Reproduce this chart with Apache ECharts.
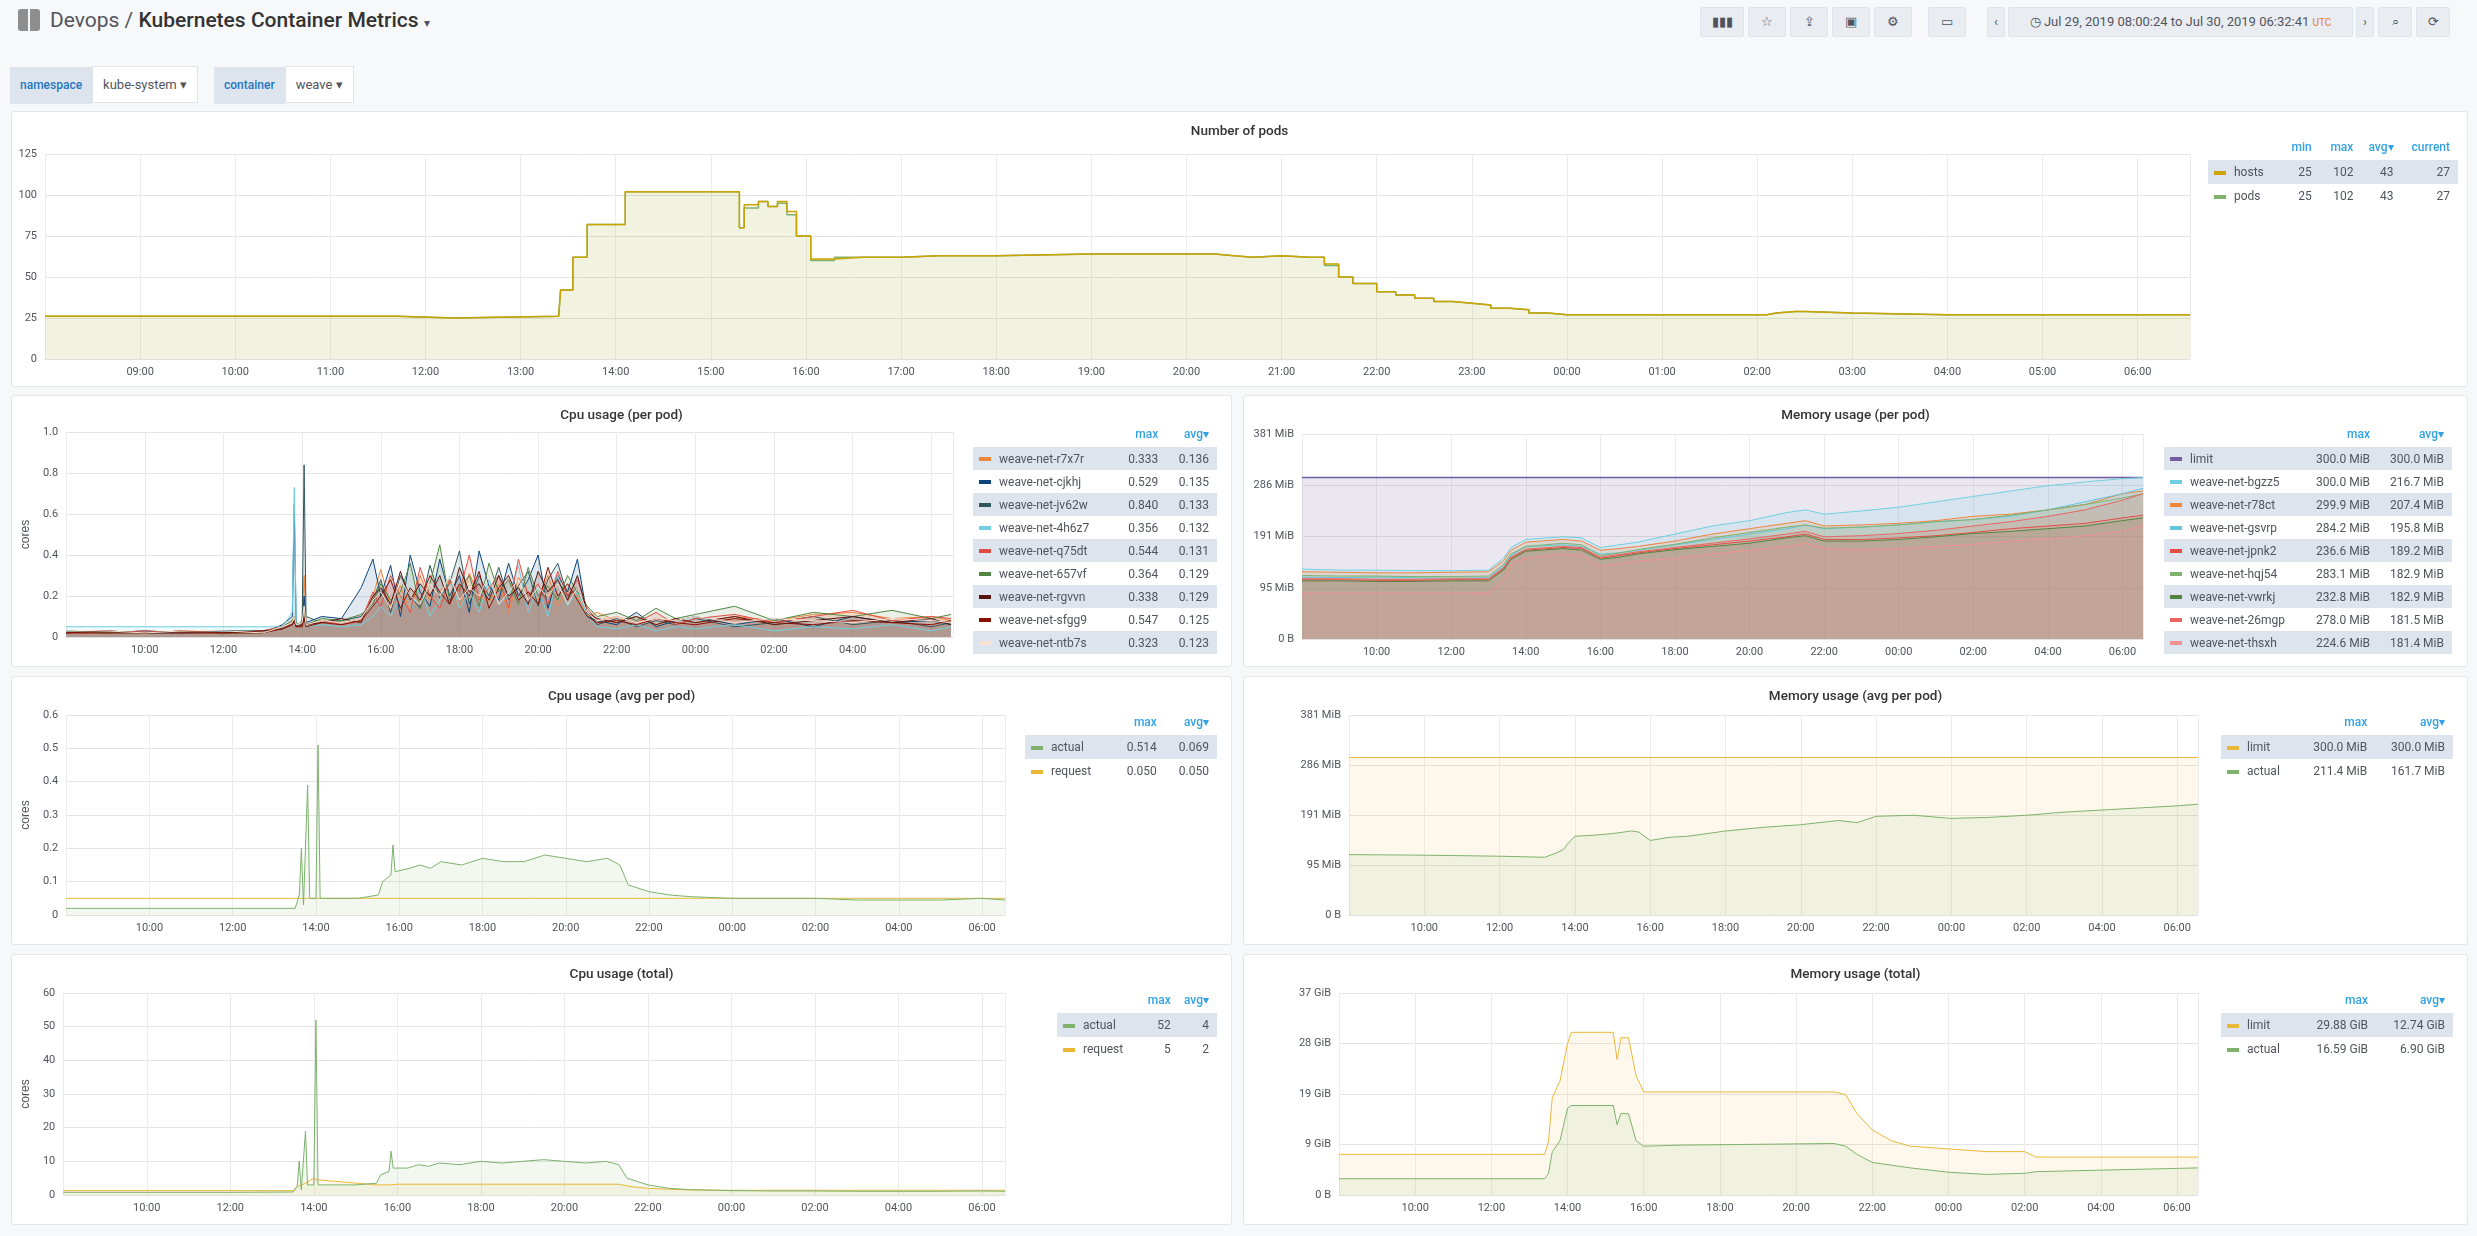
<!DOCTYPE html>
<html>
<head>
<meta charset="utf-8">
<title>Kubernetes Container Metrics</title>
<script src="https://cdn.jsdelivr.net/npm/echarts@6/dist/echarts.min.js"></script>
<style>
  body { margin:0; width:2477px; height:1236px; background:#f7f8fa; font-family:Roboto, sans-serif; color:#52545c; position:relative; overflow:hidden; }
  .panel { position:absolute; background:#fff; border:1px solid #e3e6ea; border-radius:3px; box-sizing:border-box; }
  .ptitle { position:absolute; left:0; right:0; top:10px; text-align:center; font-size:13.5px; font-weight:500; color:#333; }
  .chart { position:absolute; left:0; top:0; right:0; bottom:0; }
  .legend { position:absolute; font-size:12px; color:#52545c; border-collapse:collapse; }
  .legend th { color:#33a2e5; font-weight:500; text-align:right; padding:0 8px 4px 0; height:18px; }
  .legend td { padding:0 8px 0 6px; text-align:right; }
  .legend td.n { text-align:left; }
  .legend tr.s td { background:#dde4ed; }
  .sw { display:inline-block; width:12px; height:4px; margin-right:8px; vertical-align:middle; }
  .hdr { position:absolute; left:18px; top:8px; font-size:21px; color:#52545c; }
  .btn { position:absolute; top:7px; height:30px; background:#e9edf2; border:1px solid #dde4ed; border-radius:2px; box-sizing:border-box; font-size:13px; color:#52545c; text-align:center; line-height:28px; }
  .var { position:absolute; top:66px; height:37px; font-size:13px; line-height:37px; }
  .var .l { display:inline-block; background:#dde4ed; color:#1f78c1; padding:0 10px; font-weight:500; font-size:12px; }
  .var .v { display:inline-block; background:#fff; border:1px solid #dde4ed; padding:0 10px; height:35px; line-height:35px; }
</style>
</head>
<body>
<div class="hdr"><span style="display:inline-block;width:22px;height:22px;vertical-align:-4px;margin-right:10px;background:linear-gradient(90deg,#8e8e8e 45%,transparent 45%,transparent 55%,#8e8e8e 55%);border-radius:3px;"></span>Devops / <b style="font-weight:500;color:#333">Kubernetes Container Metrics</b> <span style="font-size:12px">▾</span></div>
<div class="btn" style="left:1700px;width:44px">▮▮▮</div>
<div class="btn" style="left:1748px;width:38px">☆</div>
<div class="btn" style="left:1790px;width:38px">⇪</div>
<div class="btn" style="left:1832px;width:38px">▣</div>
<div class="btn" style="left:1874px;width:38px">⚙</div>
<div class="btn" style="left:1928px;width:38px">▭</div>
<div class="btn" style="left:1987px;width:18px">‹</div>
<div class="btn" style="left:2008px;width:345px">◷ Jul 29, 2019 08:00:24 to Jul 30, 2019 06:32:41 <span style="color:#eb7b18;font-size:10px">UTC</span></div>
<div class="btn" style="left:2356px;width:18px">›</div>
<div class="btn" style="left:2378px;width:34px">⌕</div>
<div class="btn" style="left:2416px;width:34px">⟳</div>
<div class="var" style="left:10px"><span class="l">namespace</span><span class="v">kube-system ▾</span></div>
<div class="var" style="left:214px"><span class="l">container</span><span class="v">weave ▾</span></div>

<script type="text/javascript">
// ---- data (time = hours since Jul 29 00:00 UTC) ----
var podTimes = [8,11.7,11.72,12.3,12.32,13.4,13.42,13.55,13.7,14.1,15.25,15.3,15.35,15.5,15.6,15.7,15.8,15.9,16.05,16.3,16.6,17,17.4,18,19,20,20.3,20.5,20.7,21,21.3,21.45,21.6,21.75,22,22.2,22.4,22.6,22.8,23,23.2,23.4,23.6,23.8,24,25,26,26.1,26.2,26.4,26.5,27,28,30.55];
var podHosts = [26,26,25,25,26,26,42,62,82,102,102,80,94,96,93,96,90,75,61,62,62,63,63,64,64,64,63,62,63,62,62,58,50,46,41,39,37,35,34,33,31,30,28,27,27,27,27,28,29,29,28,27,27,27];
var podPods  = [26,26,25,25,26,26,42,62,82,102,102,80,92,96,93,95,88,75,60,62,62,63,63,64,64,64,63,62,63,62,62,57,50,46,41,39,37,35,34,33,31,30,28,27,27,27,27,28,29,29,28,27,27,27];

var cpuTimes = [8,9,10,11,12,13,13.5,13.75,13.8,13.85,14,14.05,14.1,14.5,15,15.5,15.8,16,16.25,16.5,16.75,17,17.25,17.5,17.75,18,18.25,18.5,18.75,19,19.25,19.5,19.75,20,20.25,20.5,20.75,21,21.25,21.5,22,22.5,23,23.5,24,25,26,27,28,29,30,30.5];
var cpuPodNames = ['weave-net-r7x7r','weave-net-cjkhj','weave-net-jv62w','weave-net-4h6z7','weave-net-q75dt','weave-net-657vf','weave-net-rgvvn','weave-net-sfgg9','weave-net-ntb7s'];
var cpuPodColors = ['#EF843C','#0A437C','#2F575E','#6ED0E0','#E24D42','#508642','#58140C','#890F02','#F9E2D2'];
var cpuPodMax = ['0.333','0.529','0.840','0.356','0.544','0.364','0.338','0.547','0.323'];
var cpuPodAvg = ['0.136','0.135','0.133','0.132','0.131','0.129','0.129','0.125','0.123'];
var cpuPodValues = [
  [0.02,0.03,0.02,0.03,0.02,0.03,0.05,0.08,0.1,0.06, 0.07,0.3,0.06,0.08,0.07,0.09,0.2,0.33,0.15,0.25, 0.12,0.3,0.18,0.22,0.28,0.14,0.31,0.2,0.17,0.26, 0.12,0.29,0.22,0.18,0.3,0.15,0.24,0.2,0.1,0.12, 0.08,0.1,0.06,0.09,0.07,0.1,0.08,0.11,0.12,0.09, 0.1,0.08],
  [0.03,0.02,0.03,0.02,0.03,0.02,0.06,0.1,0.65,0.05, 0.08,0.2,0.07,0.1,0.09,0.24,0.38,0.2,0.35,0.1, 0.4,0.22,0.15,0.38,0.2,0.3,0.12,0.42,0.25,0.18, 0.36,0.2,0.28,0.4,0.14,0.3,0.22,0.38,0.1,0.08, 0.06,0.12,0.05,0.08,0.1,0.06,0.09,0.05,0.1,0.07, 0.08,0.06],
  [0.02,0.03,0.02,0.02,0.03,0.03,0.04,0.07,0.1,0.06, 0.07,0.84,0.1,0.07,0.08,0.1,0.18,0.28,0.12,0.3, 0.2,0.14,0.35,0.19,0.26,0.42,0.16,0.3,0.2,0.34, 0.18,0.25,0.32,0.15,0.28,0.36,0.2,0.24,0.12,0.06, 0.09,0.05,0.08,0.06,0.09,0.05,0.07,0.1,0.06,0.08, 0.05,0.07],
  [0.05,0.05,0.05,0.05,0.05,0.05,0.05,0.12,0.73,0.06, 0.06,0.1,0.05,0.06,0.05,0.06,0.1,0.15,0.1,0.2, 0.12,0.25,0.1,0.18,0.3,0.14,0.22,0.12,0.28,0.16, 0.2,0.35,0.12,0.24,0.1,0.3,0.15,0.22,0.1,0.05, 0.04,0.06,0.03,0.05,0.04,0.06,0.03,0.05,0.04,0.06, 0.03,0.05],
  [0.02,0.02,0.03,0.02,0.02,0.03,0.05,0.06,0.09,0.05, 0.06,0.12,0.06,0.08,0.06,0.08,0.22,0.15,0.3,0.2, 0.12,0.34,0.2,0.14,0.28,0.22,0.4,0.18,0.24,0.3, 0.14,0.38,0.2,0.26,0.16,0.32,0.2,0.28,0.14,0.08, 0.1,0.07,0.12,0.06,0.09,0.11,0.07,0.1,0.13,0.08, 0.1,0.09],
  [0.03,0.02,0.02,0.03,0.02,0.02,0.05,0.08,0.1,0.07, 0.06,0.14,0.06,0.09,0.08,0.11,0.16,0.26,0.18,0.22, 0.36,0.14,0.26,0.45,0.18,0.24,0.3,0.15,0.36,0.22, 0.28,0.16,0.34,0.2,0.25,0.18,0.3,0.22,0.15,0.1, 0.12,0.08,0.14,0.09,0.11,0.15,0.08,0.12,0.1,0.13, 0.09,0.11],
  [0.02,0.03,0.02,0.02,0.02,0.03,0.04,0.06,0.08,0.05, 0.06,0.1,0.06,0.07,0.09,0.07,0.2,0.24,0.16,0.32, 0.18,0.26,0.2,0.3,0.16,0.34,0.22,0.26,0.18,0.3, 0.2,0.24,0.16,0.32,0.22,0.28,0.18,0.3,0.12,0.09, 0.07,0.1,0.06,0.09,0.07,0.1,0.06,0.08,0.1,0.07, 0.09,0.06],
  [0.02,0.02,0.02,0.03,0.02,0.02,0.04,0.06,0.08,0.05, 0.05,0.09,0.05,0.07,0.06,0.08,0.15,0.2,0.28,0.14, 0.24,0.18,0.3,0.22,0.16,0.26,0.2,0.32,0.14,0.24, 0.3,0.18,0.22,0.16,0.34,0.2,0.26,0.18,0.1,0.07, 0.08,0.06,0.09,0.07,0.06,0.09,0.07,0.06,0.08,0.07, 0.06,0.08],
  [0.03,0.03,0.02,0.03,0.03,0.02,0.05,0.07,0.1,0.06, 0.07,0.15,0.06,0.08,0.07,0.09,0.18,0.22,0.14,0.28, 0.2,0.16,0.26,0.2,0.3,0.18,0.24,0.2,0.3,0.16, 0.22,0.28,0.18,0.24,0.2,0.26,0.16,0.24,0.12,0.08, 0.1,0.07,0.09,0.08,0.1,0.07,0.09,0.08,0.07,0.09, 0.08,0.07]
];

var memTimes = [8,9,10,11,12,13,13.4,13.6,14,15,15.5,16,16.5,17,18,19,20,21,21.5,22,23,24,25,26,27,28,29,30,30.55];
var memPodNames = ['limit','weave-net-bgzz5','weave-net-r78ct','weave-net-gsvrp','weave-net-jpnk2','weave-net-hqj54','weave-net-vwrkj','weave-net-26mgp','weave-net-thsxh'];
var memPodColors = ['#705DA0','#6ED0E0','#EF843C','#65C5DB','#E24D42','#7EB26D','#508642','#EA6460','#F29191'];
var memPodMax = ['300.0 MiB','300.0 MiB','299.9 MiB','284.2 MiB','236.6 MiB','283.1 MiB','232.8 MiB','278.0 MiB','224.6 MiB'];
var memPodAvg = ['300.0 MiB','216.7 MiB','207.4 MiB','195.8 MiB','189.2 MiB','182.9 MiB','182.9 MiB','181.5 MiB','181.4 MiB'];
var memPodValues = [
  [300,300,300,300,300,300,300,300,300,300,300,300,300,300,300,300,300,300,300,300,300,300,300,300,300,300,300,300,300],
  [130,128,128,127,127,128,150,170,185,190,188,170,175,180,195,210,220,235,240,232,238,245,255,265,275,285,292,298,300],
  [125,124,123,123,124,125,145,165,180,185,182,165,168,172,182,195,205,215,220,210,212,215,220,228,232,240,250,270,275],
  [115,114,115,114,113,114,135,155,172,175,172,158,160,165,175,185,195,205,212,205,208,212,218,222,228,240,255,270,280],
  [110,110,109,109,110,110,130,150,165,170,168,150,155,160,168,175,182,190,195,185,185,188,192,198,205,210,215,225,230],
  [118,117,117,116,116,117,138,158,172,178,175,155,160,166,176,188,198,208,212,206,208,212,218,222,230,240,250,262,270],
  [108,108,107,107,108,108,128,148,163,168,165,148,152,158,166,172,178,188,192,182,182,185,190,196,200,205,210,220,225],
  [112,112,111,111,112,112,132,152,167,172,170,152,157,162,170,178,186,195,200,190,192,196,202,210,218,228,240,258,270],
  [85,85,85,85,85,86,110,140,150,158,155,135,140,145,150,158,165,172,178,168,166,168,172,176,182,186,192,200,210]
];

var cpuAvgTimes = [8,10,12,13.5,13.6,13.65,13.7,13.8,13.85,14,14.05,14.1,15,15.5,15.6,15.8,15.85,15.9,16.25,16.5,16.75,17,17.5,18,18.5,19,19.5,20,20.5,21,21.3,21.5,22,22.5,23,24,25,26,27,28,29,30,30.55];
var cpuAvgActual = [0.02,0.02,0.02,0.02,0.06,0.2,0.03,0.39,0.05,0.05, 0.51,0.05,0.05,0.06,0.1,0.12,0.21,0.13,0.14,0.15, 0.14,0.16,0.15,0.17,0.16,0.16,0.18,0.17,0.16,0.17, 0.15,0.09,0.07,0.06,0.055,0.05,0.05,0.05,0.045,0.045, 0.045,0.05,0.045];
var cpuAvgReqTimes = [8,30.55];
var cpuAvgRequest = [0.05,0.05];

var cpuTotActual = [0.8,0.8,0.8,0.9,2.5,10,1.5,19,3,3, 52,3,3,3.5,6,7,13,8,8,9, 8.5,9.5,9,10,9.5,10,10.5,10,9.5,10, 9,5,3,2,1.6,1.3,1.2,1.2,1.1,1.1, 1.1,1.2,1.1];
var cpuTotReqTimes = [8,13.5,13.6,13.8,14,14.1,15.5,15.8,16,21.3,21.6,22,22.5,23,24,30.55];
var cpuTotRequest = [1.3,1.3,2.5,3.5,5,4.5,3,3,3.2,3.2,2.5,2,1.7,1.5,1.4,1.4];

var memAvgTimes = [8,10,12,13.2,13.5,13.7,13.8,14,14.5,15,15.5,15.7,16,16.5,17,18,19,20,21,21.5,22,23,24,25,26,27,28,29,30,30.55];
var memAvgActual = [115,114,112,110,118,125,135,150,152,155,160,158,142,148,150,160,167,172,180,176,188,190,184,186,190,196,200,204,208,211];
var memAvgLimitTimes = [8,30.55];
var memAvgLimit = [300,300];

var memTotTimes = [8,13.4,13.5,13.6,13.8,14,14.1,15.2,15.3,15.4,15.6,15.8,16,17,21,21.3,21.6,22,22.5,23,24,25,26,26.3,30.55];
var memTotLimit = [7.5,7.5,10,18,21,28,30,30,25,29,29,22,19,19,19,18.5,15,12,10,9,8.5,8,8,7,7];
var memTotActual = [3,3,4,8,10,16,16.5,16.5,13,15,15,10,9,9.2,9.5,9,7.5,6,5.5,5,4.2,3.8,4,4.3,5];

// ---- helpers ----
function pad(n){ return (n < 10 ? '0' : '') + n; }
function hourLabel(v){ var h = Math.round(v) % 24; return pad(h) + ':00'; }
function pairs(ts, vs){ return ts.map(function(t, i){ return [t, vs[i]]; }); }

function panel(x, y, w, h, title){
  var p = document.createElement('div');
  p.className = 'panel';
  p.style.left = x + 'px'; p.style.top = y + 'px'; p.style.width = w + 'px'; p.style.height = h + 'px';
  p.innerHTML = '<div class="chart"></div><div class="ptitle">' + title + '</div>';
  document.body.appendChild(p);
  return p;
}

function legend(p, x, y, w, cols, rows, rh){
  var t = document.createElement('table');
  t.className = 'legend';
  t.style.left = x + 'px'; t.style.top = y + 'px'; t.style.width = w + 'px';
  var html = '<tr><th></th>' + cols.map(function(c){ return '<th>' + c + '</th>'; }).join('') + '</tr>';
  rows.forEach(function(r, i){
    html += '<tr class="' + (i % 2 === 0 ? 's' : '') + '" style="height:' + (rh || 24) + 'px"><td class="n"><span class="sw" style="background:' + r.color + '"></span>' + r.name + '</td>' +
      r.vals.map(function(v){ return '<td>' + v + '</td>'; }).join('') + '</tr>';
  });
  t.innerHTML = html;
  p.appendChild(t);
}

function chart(p, o){
  var c = echarts.init(p.querySelector('.chart'));
  var axisText = { color:'#52545c', fontSize:11, fontFamily:'Roboto, sans-serif' };
  c.setOption({
    animation: false,
    grid: o.grid,
    xAxis: {
      type:'value', min:8, max:30.55, interval:o.xInterval,
      axisLabel: Object.assign({ formatter:hourLabel, showMinLabel:false, showMaxLabel:false }, axisText),
      axisLine:{ lineStyle:{ color:'#e0e0e0' } }, axisTick:{ show:false },
      splitLine:{ show:true, lineStyle:{ color:'#ececec' } }
    },
    yAxis: {
      type:'value', min:0, max:o.yMax, interval:o.yInterval,
      name:o.yName || '', nameLocation:'middle', nameRotate:90, nameGap:o.nameGap || 30,
      nameTextStyle:{ color:'#52545c', fontSize:12 },
      axisLabel: Object.assign({ formatter:o.yFmt }, axisText),
      axisLine:{ show:false }, axisTick:{ show:false },
      splitLine:{ lineStyle:{ color:'#e4e4e4' } }
    },
    series: o.series.map(function(s){
      return {
        type:'line', name:s.name, data:pairs(s.times, s.values), step:s.step || false,
        showSymbol:false, symbol:'none', z:s.z || 2,
        lineStyle:{ color:s.color, width:s.width || 1 },
        itemStyle:{ color:s.color },
        areaStyle:{ color:s.color, opacity:s.fill === undefined ? 0.1 : s.fill }
      };
    })
  });
}

// ---- Number of pods ----
var p1 = panel(11, 111, 2457, 276, 'Number of pods');
chart(p1, {
  grid:{ left:33, right:277, top:42, bottom:27 }, xInterval:1, yMax:125, yInterval:25,
  series:[
    { name:'pods', times:podTimes, values:podPods, color:'#7EB26D', step:'end', width:1.5, fill:0.08 },
    { name:'hosts', times:podTimes, values:podHosts, color:'#CCA300', step:'end', width:1.5, fill:0.08 }
  ]
});
legend(p1, 2196, 26, 250, ['min','max','avg▾','current'], [
  { name:'hosts', color:'#CCA300', vals:['25','102','43','27'] },
  { name:'pods', color:'#7EB26D', vals:['25','102','43','27'] }
]);

// ---- Cpu usage (per pod) ----
var p2 = panel(11, 395, 1221, 272, 'Cpu usage (per pod)');
chart(p2, {
  grid:{ left:51, right:278, top:36, bottom:29 }, xInterval:2, yMax:1.0, yInterval:0.2,
  yName:'cores', nameGap:34, yFmt:function(v){ return v === 0 ? '0' : v.toFixed(1); },
  series: cpuPodNames.map(function(n, i){
    return { name:n, times:cpuTimes, values:cpuPodValues[i], color:cpuPodColors[i], fill:0.12 };
  })
});
legend(p2, 961, 29, 244, ['max','avg▾'], cpuPodNames.map(function(n, i){
  return { name:n, color:cpuPodColors[i], vals:[cpuPodMax[i], cpuPodAvg[i]] };
}), 23);

// ---- Memory usage (per pod) ----
function mibFmt(v){ return v === 0 ? '0 B' : Math.round(v) + ' MiB'; }
var p3 = panel(1243, 395, 1225, 272, 'Memory usage (per pod)');
chart(p3, {
  grid:{ left:58, right:324, top:38, bottom:27 }, xInterval:2, yMax:381, yInterval:95.25, yFmt:mibFmt,
  series: memPodNames.map(function(n, i){
    return { name:n, times:memTimes, values:memPodValues[i], color:memPodColors[i], fill:0.15, width: i === 0 ? 1.5 : 1 };
  })
});
legend(p3, 920, 29, 288, ['max','avg▾'], memPodNames.map(function(n, i){
  return { name:n, color:memPodColors[i], vals:[memPodMax[i], memPodAvg[i]] };
}), 23);

// ---- Cpu usage (avg per pod) ----
var p4 = panel(11, 676, 1221, 269, 'Cpu usage (avg per pod)');
chart(p4, {
  grid:{ left:47, right:226, top:38, bottom:29 }, xInterval:2, yMax:0.6, yInterval:0.1,
  yName:'cores', nameGap:32, yFmt:function(v){ return v === 0 ? '0' : v.toFixed(1); },
  series:[
    { name:'request', times:cpuAvgReqTimes, values:cpuAvgRequest, color:'#EAB839', fill:0 },
    { name:'actual', times:cpuAvgTimes, values:cpuAvgActual, color:'#7EB26D', fill:0.1 }
  ]
});
legend(p4, 1013, 36, 192, ['max','avg▾'], [
  { name:'actual', color:'#7EB26D', vals:['0.514','0.069'] },
  { name:'request', color:'#EAB839', vals:['0.050','0.050'] }
]);

// ---- Memory usage (avg per pod) ----
var p5 = panel(1243, 676, 1225, 269, 'Memory usage (avg per pod)');
chart(p5, {
  grid:{ left:105, right:269, top:38, bottom:29 }, xInterval:2, yMax:381, yInterval:95.25, yFmt:mibFmt,
  series:[
    { name:'limit', times:memAvgLimitTimes, values:memAvgLimit, color:'#EAB839', fill:0.1 },
    { name:'actual', times:memAvgTimes, values:memAvgActual, color:'#7EB26D', fill:0.1 }
  ]
});
legend(p5, 977, 36, 232, ['max','avg▾'], [
  { name:'limit', color:'#EAB839', vals:['300.0 MiB','300.0 MiB'] },
  { name:'actual', color:'#7EB26D', vals:['211.4 MiB','161.7 MiB'] }
]);

// ---- Cpu usage (total) ----
var p6 = panel(11, 954, 1221, 271, 'Cpu usage (total)');
chart(p6, {
  grid:{ left:47, right:226, top:38, bottom:29 }, xInterval:2, yMax:60, yInterval:10,
  yName:'cores', nameGap:28, yFmt:function(v){ return String(v); },
  series:[
    { name:'request', times:cpuTotReqTimes, values:cpuTotRequest, color:'#EAB839', fill:0.1 },
    { name:'actual', times:cpuAvgTimes, values:cpuTotActual, color:'#7EB26D', fill:0.1 }
  ]
});
legend(p6, 1045, 36, 160, ['max','avg▾'], [
  { name:'actual', color:'#7EB26D', vals:['52','4'] },
  { name:'request', color:'#EAB839', vals:['5','2'] }
]);

// ---- Memory usage (total) ----
var p7 = panel(1243, 954, 1225, 271, 'Memory usage (total)');
chart(p7, {
  grid:{ left:95, right:269, top:38, bottom:29 }, xInterval:2, yMax:37.25, yInterval:9.3125,
  yFmt:function(v){ return v === 0 ? '0 B' : Math.round(v) + ' GiB'; },
  series:[
    { name:'limit', times:memTotTimes, values:memTotLimit, color:'#EAB839', fill:0.1 },
    { name:'actual', times:memTotTimes, values:memTotActual, color:'#7EB26D', fill:0.1 }
  ]
});
legend(p7, 977, 36, 232, ['max','avg▾'], [
  { name:'limit', color:'#EAB839', vals:['29.88 GiB','12.74 GiB'] },
  { name:'actual', color:'#7EB26D', vals:['16.59 GiB','6.90 GiB'] }
]);
</script>
</body>
</html>
